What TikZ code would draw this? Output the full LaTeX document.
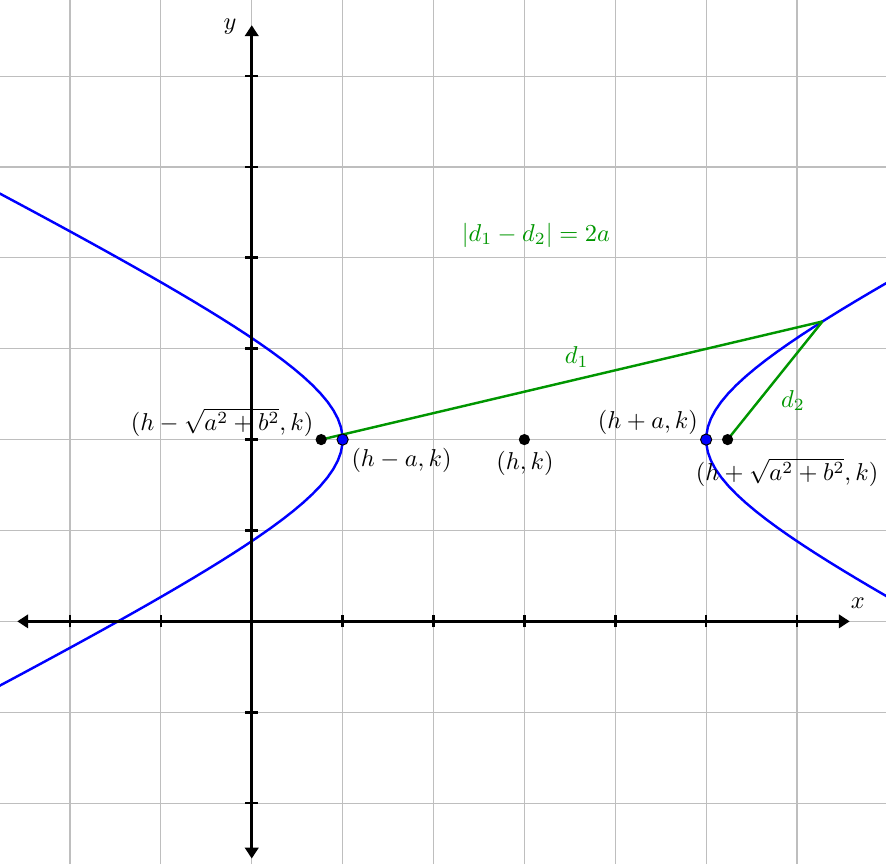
\documentclass[tikz,border=0pt]{standalone}
\usetikzlibrary{arrows.meta}
\definecolor{gridgray}{RGB}{190,190,190}
\definecolor{dgreen}{RGB}{0,150,0}
\tikzset{
  gridline/.style={gridgray, line width=0.45pt},
  axisline/.style={black, line width=1.2pt, {Triangle[length=4.5pt,width=5.5pt]}-{Triangle[length=4.5pt,width=5.5pt]}},
  tickmark/.style={black, line width=1.1pt},
  curve/.style={blue, line width=1pt},
  dist/.style={dgreen, line width=1pt},
  blackdot/.style={circle, fill=black, inner sep=0pt, minimum size=4.6pt},
  bluedot/.style={circle, fill=blue, draw=black, line width=0.4pt, inner sep=0pt, minimum size=4.6pt},
  lbl/.style={inner sep=0pt},
  glbl/.style={inner sep=0pt, text=dgreen}
}
\begin{document}
\begin{tikzpicture}[x=1.31cm,y=1.31cm]
\useasboundingbox (-2.770,-2.672) rectangle (6.979,6.837);
\begin{scope}
\clip (-2.770,-2.672) rectangle (6.979,6.837);
\foreach \i in {-2,...,6} \draw[gridline] (\i,-2.672) -- (\i,6.837);
\foreach \j in {-2,...,6} \draw[gridline] (-2.770,\j) -- (6.979,\j);
\draw[curve] plot[domain=-3.5:7.5, samples=120, variable=\y] ({3-2*sqrt(1+(\y-2)^2)},\y);
\draw[curve] plot[domain=-3.5:7.5, samples=120, variable=\y] ({3+2*sqrt(1+(\y-2)^2)},\y);
\end{scope}
% axes
\coordinate (xl) at (-2.58,0);
\coordinate (xr) at (6.58,0);
\coordinate (yb) at (0,-2.61);
\coordinate (yt) at (0,6.56);
\draw[axisline] (xl) -- (xr);
\draw[axisline] (yb) -- (yt);
\foreach \i in {-2,-1,1,2,3,4,5,6} \draw[tickmark] (\i,-0.065) -- (\i,0.065);
\foreach \j in {-2,-1,1,2,3,4,5,6} \draw[tickmark] (-0.07,\j) -- (0.07,\j);
\node[lbl] (xlab) at (6.67,0.20) {$x$};
\node[lbl] (ylab) at (-0.24,6.54) {$y$};
% points
\coordinate (F1) at ({3-sqrt(5)},2);
\coordinate (F2) at ({3+sqrt(5)},2);
\coordinate (P) at (6.28,3.3);
\draw[dist] (F1) -- (P);
\draw[dist] (F2) -- (P);
\node[blackdot] (f1) at (F1) {};
\node[blackdot] (f2) at (F2) {};
\node[blackdot] (c) at (3,2) {};
\node[bluedot] (v1) at (1,2) {};
\node[bluedot] (v2) at (5,2) {};
% labels
\node[lbl] (lf1) at (-0.327,2.19) {$(h-\sqrt{a^2+b^2},k)$};
\node[lbl] (lv1) at (1.648,1.769) {$(h-a,k)$};
\node[lbl] (lc) at (3.007,1.736) {$(h,k)$};
\node[lbl] (lv2) at (4.36,2.187) {$(h+a,k)$};
\node[lbl] (lf2) at (5.89,1.636) {$(h+\sqrt{a^2+b^2},k)$};
\node[glbl] (eq) at (3.128,4.25) {$|d_1-d_2|=2a$};
\node[glbl] (ld1) at (3.576,2.907) {$d_1$};
\node[glbl] (ld2) at (5.956,2.43) {$d_2$};
\end{tikzpicture}
\end{document}
